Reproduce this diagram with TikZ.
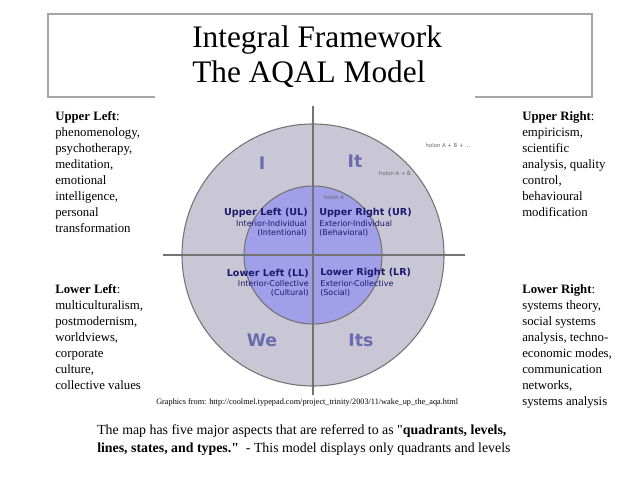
\documentclass[tikz,border=0pt]{standalone}
\usepackage{fontspec}
\setmainfont{Liberation Serif}
\setsansfont{DejaVu Sans}
\begin{document}
\begin{tikzpicture}[x=0.75pt,y=-0.75pt,
  side/.style={anchor=north west,align=left,font=\fontsize{9.6}{12}\selectfont,inner sep=0pt},
  quad/.style={font=\sffamily\bfseries\fontsize{7.2}{8}\selectfont,text=navy,inner sep=0pt},
  sub/.style={font=\sffamily\fontsize{6}{7.2}\selectfont,text=navy,inner sep=0pt,align=#1},
  big/.style={font=\sffamily\bfseries\fontsize{13}{14}\selectfont,text=pron,inner sep=0pt},
  tiny/.style={font=\sffamily\fontsize{4}{5}\selectfont,text=gray!80!black,inner sep=0pt}]
\definecolor{navy}{HTML}{1A1A6E}
\definecolor{pron}{HTML}{6B6BB0}
\definecolor{outc}{HTML}{C9C7D6}
\definecolor{inc}{HTML}{A09FE8}
\useasboundingbox (0,0) rectangle (638,478);
\fill[white] (0,0) rectangle (638,478);
% frame
\draw[gray!70,line width=1pt] (155,97) -- (48,97) -- (48,14) -- (592,14) -- (592,97) -- (475,97);
\node[anchor=west,inner sep=0pt,font=\fontsize{23.5}{26}\selectfont,align=left] (title) at (192,57) {Integral Framework\\The AQAL Model};
% circles
\coordinate (c) at (313,255);
\fill[outc] (c) circle[radius=131];
\draw[gray!90!black,line width=0.8pt] (c) circle[radius=131];
\fill[inc] (c) circle[radius=69];
\draw[gray!90!black,line width=0.8pt] (c) circle[radius=69];
\draw[gray!90!black,line width=0.9pt] (163,255) -- (465,255);
\draw[gray!90!black,line width=0.9pt] (313,106) -- (313,395);
\node[big] (I) at (262,163) {I};
\node[big] (It) at (355,161) {It};
\node[big] (We) at (262,340) {We};
\node[big] (Its) at (361,340) {Its};
\node[tiny] (h3) at (448,146) {holon A + B + ...};
\node[tiny] (h2) at (395,174) {holon A + B};
\node[tiny] (h1) at (334,198) {holon A};
\node[quad,anchor=east] (ul) at (308,213) {Upper Left (UL)};
\node[sub=right,anchor=north east] (uls) at (307,220) {Interior-Individual\\(Intentional)};
\node[quad,anchor=west] (ur) at (319,213) {Upper Right (UR)};
\node[sub=left,anchor=north west] (urs) at (319,220) {Exterior-Individual\\(Behavioral)};
\node[quad,anchor=east] (ll) at (309,273) {Lower Left (LL)};
\node[sub=right,anchor=north east] (lls) at (309,280) {Interior-Collective\\(Cultural)};
\node[quad,anchor=west] (lr) at (320,273) {Lower Right (LR)};
\node[sub=left,anchor=north west] (lrs) at (320,280) {Exterior-Collective\\(Social)};
\node[anchor=west,inner sep=0pt,font=\fontsize{6.2}{7}\selectfont] (src) at (156,402) {Graphics from: http://coolmel.typepad.com/project\_trinity/2003/11/wake\_up\_the\_aqa.html};
% side texts
\node[side] (tl) at (55,111) {\textbf{Upper Left}:\\phenomenology,\\psychotherapy,\\meditation,\\emotional\\intelligence,\\personal\\transformation};
\node[side] (bl) at (55,284) {\textbf{Lower Left}:\\multiculturalism,\\postmodernism,\\worldviews,\\corporate\\culture,\\collective values};
\node[side] (tr) at (522,111) {\textbf{Upper Right}:\\empiricism,\\scientific\\analysis, quality\\control,\\behavioural\\modification};
\node[side] (br) at (522,284) {\textbf{Lower Right}:\\systems theory,\\social systems\\analysis, techno-\\economic modes,\\communication\\networks,\\systems analysis};
\node[side,font=\fontsize{10.4}{13.5}\selectfont] (bot) at (97,424) {The map has five major aspects that are referred to as \textquotedbl\textbf{quadrants, levels,}\\\textbf{lines, states, and types.\textquotedbl}\ \ - This model displays only quadrants and levels};
\end{tikzpicture}
\end{document}
